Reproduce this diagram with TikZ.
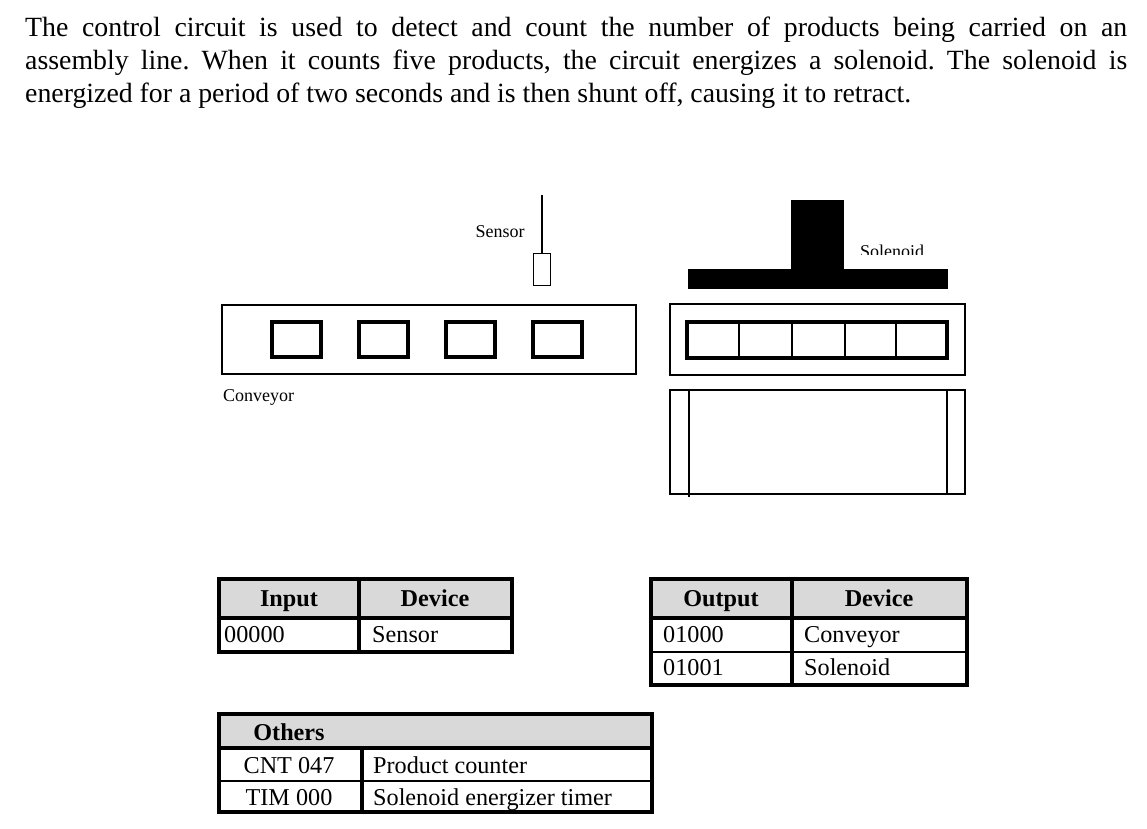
\documentclass[tikz,border=0pt]{standalone}
\usepackage{fontspec}
\setmainfont{Liberation Serif}
\begin{document}
\begin{tikzpicture}[x=1pt,y=-1pt,
  thin/.style={line width=1.2pt},
  thk/.style={line width=3.5pt},
  lab/.style={font=\fontsize{18}{20}\selectfont,inner sep=0,anchor=base},
  tt/.style={font=\fontsize{24.2}{24}\selectfont,inner sep=0,anchor=base},
  th/.style={font=\fontsize{24.2}{24}\selectfont\bfseries,inner sep=0,anchor=base}]
\useasboundingbox (0,0) rectangle (1147,828);
\node[anchor=north west,inner sep=0,text width=1102pt,align=justify,font=\fontsize{27.8}{33}\selectfont\frenchspacing] (para) at (25,17)
{The control circuit is used to detect and count the number of products being carried on an\linebreak assembly line. When it counts five products, the circuit energizes a solenoid. The solenoid is\linebreak energized for a period of two seconds and is then shunt off, causing it to retract.};
% conveyor
\draw[thin] (222,305) rectangle (636,374);
\foreach \x in {272,359,446,533}{\draw[thk] (\x,322) rectangle ++(49,35);}
\coordinate (st) at (542,195);
\node[draw,thin,minimum width=17pt,minimum height=32pt,inner sep=0,anchor=north] (sens) at (542,253) {};
\draw[thin] (st) -- (sens.north);
\node[lab] (sl) at (500,237) {Sensor};
\node[lab,anchor=base west] (cl) at (223,401) {Conveyor};
% solenoid
\node[lab,anchor=base west] (sol) at (860,257) {Solenoid};
\fill[white] (850,255) rectangle (940,268);
\fill (688,269) rectangle (948,289);
\fill (791,200) rectangle (844,270);
\draw[thin] (670,304) rectangle (965,375);
\draw[thk] (687,322) rectangle (947,358);
\foreach \x in {739,792,845,896}{\draw[line width=2.5pt] (\x,322) -- (\x,358);}
\draw[thin] (670,390) rectangle (965,494);
\draw[thin] (689,390) -- (689,497);
\draw[thin] (947,390) -- (947,494);
% Input table
\fill[gray!30] (219,579) rectangle (512,618);
\draw[thk] (219,579) rectangle (512,652);
\draw[thk] (219,618) -- (512,618);
\draw[thk] (359,579) -- (359,652);
\node[th] at (289,606) {Input};
\node[th] at (435,606) {Device};
\node[tt,anchor=base west] at (224,642) {00000};
\node[tt,anchor=base west] at (372,642) {Sensor};
% Output table
\fill[gray!30] (651,579) rectangle (967,618);
\draw[thk] (651,579) rectangle (967,685);
\draw[thk] (651,618) -- (967,618);
\draw[thin] (651,652) -- (967,652);
\draw[thk] (792,579) -- (792,685);
\node[th] at (721,606) {Output};
\node[th] at (879,606) {Device};
\node[tt,anchor=base west] at (663,642) {01000};
\node[tt,anchor=base west] at (804,642) {Conveyor};
\node[tt,anchor=base west] at (663,675) {01001};
\node[tt,anchor=base west] at (804,675) {Solenoid};
% Others table
\fill[gray!30] (219,714) rectangle (652,748);
\draw[thk] (219,714) rectangle (652,812);
\draw[thk] (219,748) -- (652,748);
\draw[thin] (219,781) -- (652,781);
\draw[thk] (362,748) -- (362,812);
\node[th] at (289,740) {Others};
\node[tt] at (289,773) {CNT 047};
\node[tt] at (289,805) {TIM 000};
\node[tt,anchor=base west] at (373,773) {Product counter};
\node[tt,anchor=base west] at (373,805) {Solenoid energizer timer};
\end{tikzpicture}
\end{document}
